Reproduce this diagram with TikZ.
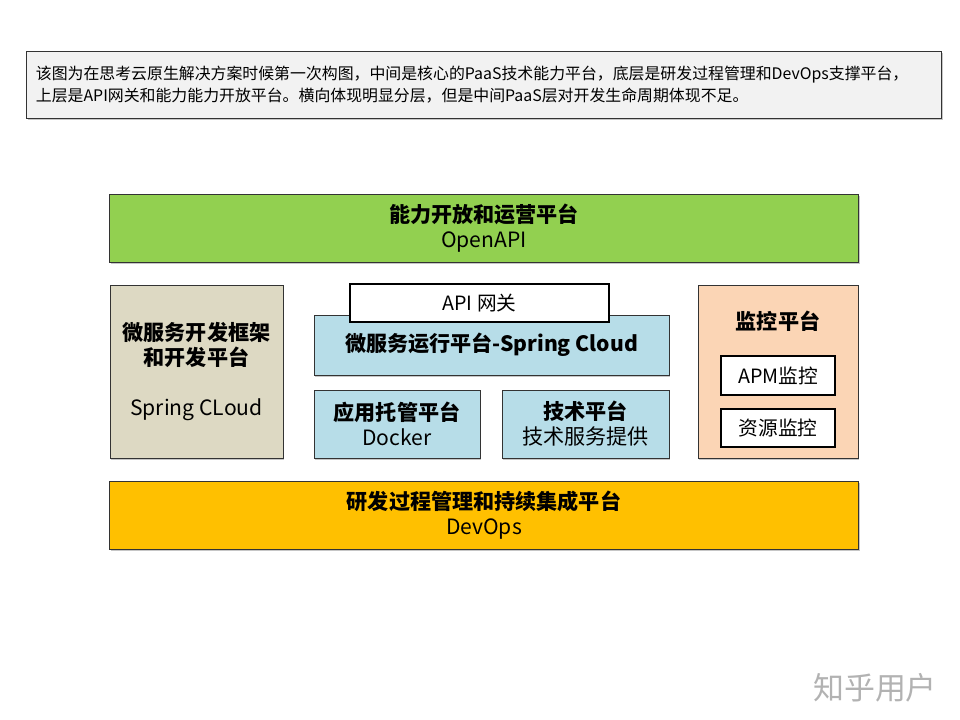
\documentclass[tikz,border=0pt]{standalone}
\usepackage{fontspec}
\setmainfont{Noto Sans CJK SC}
\usetikzlibrary{shadows}

\definecolor{notegray}{HTML}{F2F2F2}
\definecolor{opengreen}{HTML}{92D050}
\definecolor{frambeige}{HTML}{DDD9C3}
\definecolor{runblue}{HTML}{B7DDE8}
\definecolor{monpeach}{HTML}{FBD5B5}
\definecolor{devorange}{HTML}{FFC000}

\begin{document}
\begin{tikzpicture}[x=0.025cm, y=-0.025cm,
    box/.style={draw=black!80, line width=0.6pt, inner sep=0pt, align=center,
        drop shadow={shadow xshift=1pt, shadow yshift=-1.2pt, opacity=0.45},
        font=\fontsize{15}{17.8}\selectfont},
    tag/.style={draw=black, line width=1.8pt, fill=white, inner sep=0pt, align=center,
        font=\fontsize{14}{16}\selectfont}
]
\useasboundingbox (0,0) rectangle (960,720);

% note on top
\node[box, fill=notegray, text width=22.4cm, inner xsep=0.225cm, minimum height=1.675cm, align=left,
    font=\fontsize{11.3}{15.6}\selectfont] (note) at (484,84.5)
    {该图为在思考云原生解决方案时候第一次构图，中间是核心的PaaS技术能力平台，底层是研发过程管理和DevOps支撑平台，\\
     上层是API网关和能力能力开放平台。横向体现明显分层，但是中间PaaS层对开发生命周期体现不足。};

% layers
\node[box, fill=opengreen, minimum width=18.7cm, minimum height=1.7cm] (open) at (484,228)
    {\textbf{能力开放和运营平台}\\OpenAPI};
\node[box, fill=frambeige, minimum width=4.325cm, minimum height=4.325cm] (frame) at (196.5,371.5)
    {\textbf{微服务开发框架}\\\textbf{和开发平台}\\[17.8pt]Spring\ CLoud};
\node[box, fill=runblue, minimum width=8.875cm, minimum height=1.5cm] (run) at (491.5,345)
    {\textbf{微服务运行平台-Spring\ Cloud}};
\node[tag, minimum width=6.475cm, minimum height=0.95cm] (gw) at (479.5,303)
    {API 网关};
\node[box, fill=runblue, minimum width=4.15cm, minimum height=1.7cm] (docker) at (397,424)
    {\textbf{应用托管平台}\\Docker};
\node[box, fill=runblue, minimum width=4.175cm, minimum height=1.7cm] (tech) at (585.5,424)
    {\textbf{技术平台}\\技术服务提供};
\node[box, fill=monpeach, minimum width=4cm, minimum height=4.325cm] (mon) at (778,371.5) {};
\node[font=\fontsize{15}{17}\selectfont\bfseries] (montitle) at (778,321) {监控平台};
\node[tag, minimum width=2.85cm, minimum height=0.975cm] (apm) at (778,375.5) {APM监控};
\node[tag, minimum width=2.85cm, minimum height=0.95cm] (res) at (778,428) {资源监控};
\node[box, fill=devorange, minimum width=18.7cm, minimum height=1.7cm] (devops) at (484,515)
    {\textbf{研发过程管理和持续集成平台}\\DevOps};

% watermark
\node[text=black!30, font=\fontsize{22}{24}\selectfont] (mark) at (875,688) {知乎用户};
\end{tikzpicture}
\end{document}
